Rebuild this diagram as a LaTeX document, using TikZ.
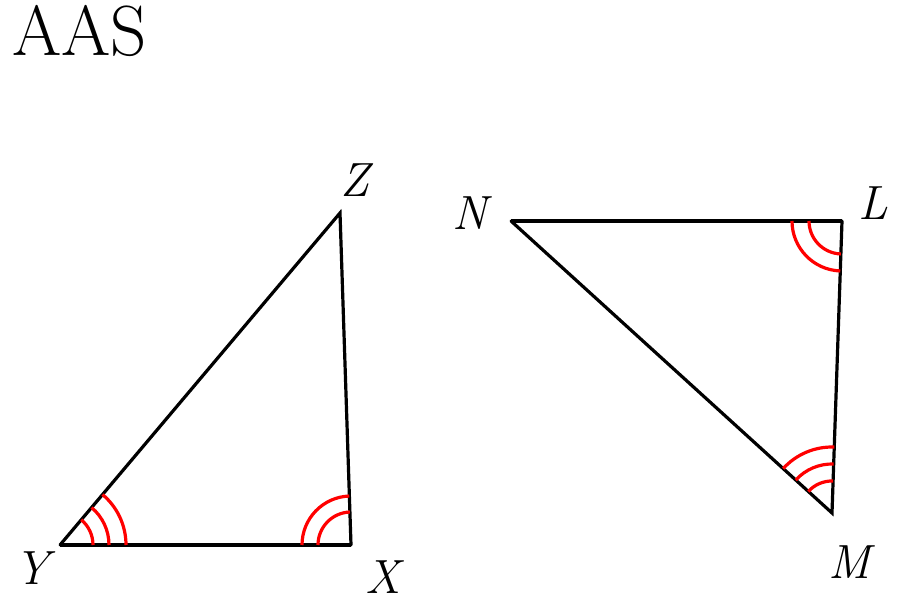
\documentclass[tikz,border=0pt]{standalone}
\begin{document}
\begin{tikzpicture}[x=1pt,y=1pt,
  side/.style={line width=3.2pt,line cap=round,line join=miter},
  base/.style={line width=4.6pt},
  anglemark/.style={red,line width=3.2pt},
  lbl/.style={font=\fontsize{48}{48}\selectfont\itshape,inner sep=0pt}]
\useasboundingbox (0,0) rectangle (900,610);
\coordinate (Y) at (60,65);
\coordinate (X) at (351,65);
\coordinate (Z) at (340,397);
\coordinate (N) at (511,389);
\coordinate (L) at (842,389);
\coordinate (M) at (832,97);
\node[anchor=west,inner sep=0pt,font=\fontsize{71}{71}\selectfont] (title) at (12,579) {AAS};
% triangle XYZ
\draw[side] (Y) -- (Z) -- (X);
\draw[base] (Y) -- (X);
% triangle NLM
\draw[side] (N) -- (M) -- (L);
\draw[base] (N) -- (L);
% angle marks at Y
\foreach \r in {33,49,66} \draw[anglemark] (Y) ++(0:\r) arc[start angle=0,end angle=49.9,radius=\r];
% angle marks at X
\foreach \r in {33,49} \draw[anglemark] (X) ++(180:\r) arc[start angle=180,end angle=92,radius=\r];
% angle marks at L
\foreach \r in {33,50} \draw[anglemark] (L) ++(180:\r) arc[start angle=180,end angle=268,radius=\r];
% angle marks at M
\foreach \r in {32,49,66} \draw[anglemark] (M) ++(88:\r) arc[start angle=88,end angle=137.7,radius=\r];
% labels
\node[lbl] (lY) at (32,42) {Y};
\node[lbl] (lX) at (383,33) {X};
\node[lbl] (lZ) at (355,430) {Z};
\node[lbl] (lN) at (470,397) {N};
\node[lbl] (lL) at (873,407) {L};
\node[lbl] (lM) at (850,48) {M};
\end{tikzpicture}
\end{document}
